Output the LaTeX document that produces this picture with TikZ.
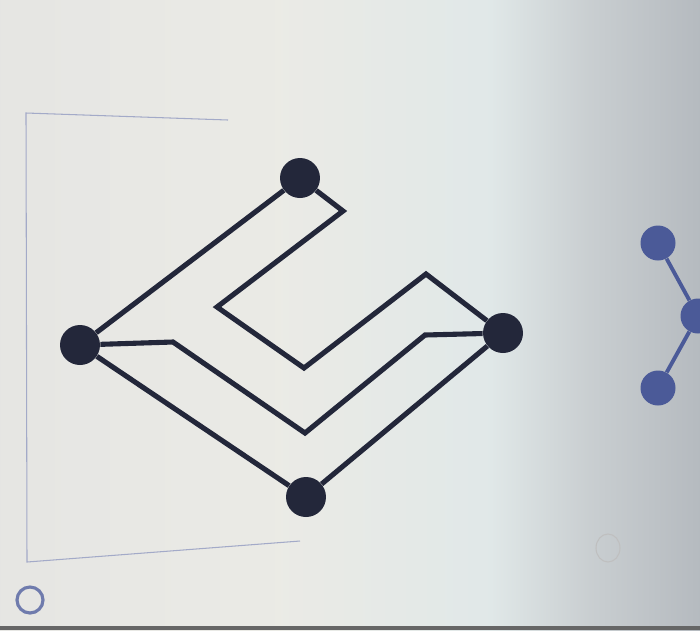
\documentclass[tikz,border=0pt]{standalone}
\usetikzlibrary{positioning}
\definecolor{ink}{HTML}{23273A}
\definecolor{pale}{HTML}{4B5A98}
\definecolor{frame}{HTML}{A3AAC8}
\pgfdeclarehorizontalshading{screen}{100bp}{
  rgb(0bp)=(0.90,0.90,0.89);
  rgb(25bp)=(0.90,0.90,0.89);
  rgb(45bp)=(0.92,0.92,0.90);
  rgb(60bp)=(0.88,0.91,0.91);
  rgb(67bp)=(0.79,0.81,0.82);
  rgb(75bp)=(0.71,0.73,0.75);
  rgb(100bp)=(0.71,0.73,0.75)}
\tikzset{
  vertex/.style={circle,fill=ink,minimum size=0.8cm,inner sep=0pt},
  wire/.style={draw=ink,line width=2.9pt,line join=miter},
  ghost/.style={circle,fill=pale,minimum size=0.7cm,inner sep=0pt},
  ghostwire/.style={draw=pale,line width=2.2pt},
}
\begin{document}
\begin{tikzpicture}[x=0.02cm,y=-0.02cm]
    \clip (0,0) rectangle (700,630);
    \shade[shading=screen] (0,0) rectangle (700,630);
    \fill[gray!80!black] (0,626) rectangle (700,630);

    \draw[frame,line width=0.6pt] (228,120) -- (26,113) -- (27,562) -- (300,541);
    \draw[pale!80,line width=1.8pt] (30,600) circle (13);
    \draw[gray!50,line width=0.6pt] (608,548) circle (12 and 14);

    \node[vertex] (l) at (80,345) {};
    \node[vertex] (t) at (300,178) {};
    \node[vertex] (r) at (503,333) {};
    \node[vertex] (b) at (306,497) {};

    \coordinate (c1) at (343,211);
    \coordinate (c2) at (217,307);
    \coordinate (c3) at (304,368);
    \coordinate (c4) at (426,274);
    \coordinate (d1) at (173,342);
    \coordinate (d2) at (305,433);
    \coordinate (d3) at (425,335);

    \draw[wire] (l) -- (t);
    \draw[wire] (t) -- (c1) -- (c2) -- (c3) -- (c4) -- (r);
    \draw[wire] (l) -- (d1) -- (d2) -- (d3) -- (r);
    \draw[wire] (l) -- (b);
    \draw[wire] (b) -- (r);

    \node[ghost] (g1) at (658,243) {};
    \node[ghost] (g2) at (698,316) {};
    \node[ghost] (g3) at (658,388) {};
    \draw[ghostwire] (g1) -- (g2);
    \draw[ghostwire] (g2) -- (g3);
\end{tikzpicture}
\end{document}
